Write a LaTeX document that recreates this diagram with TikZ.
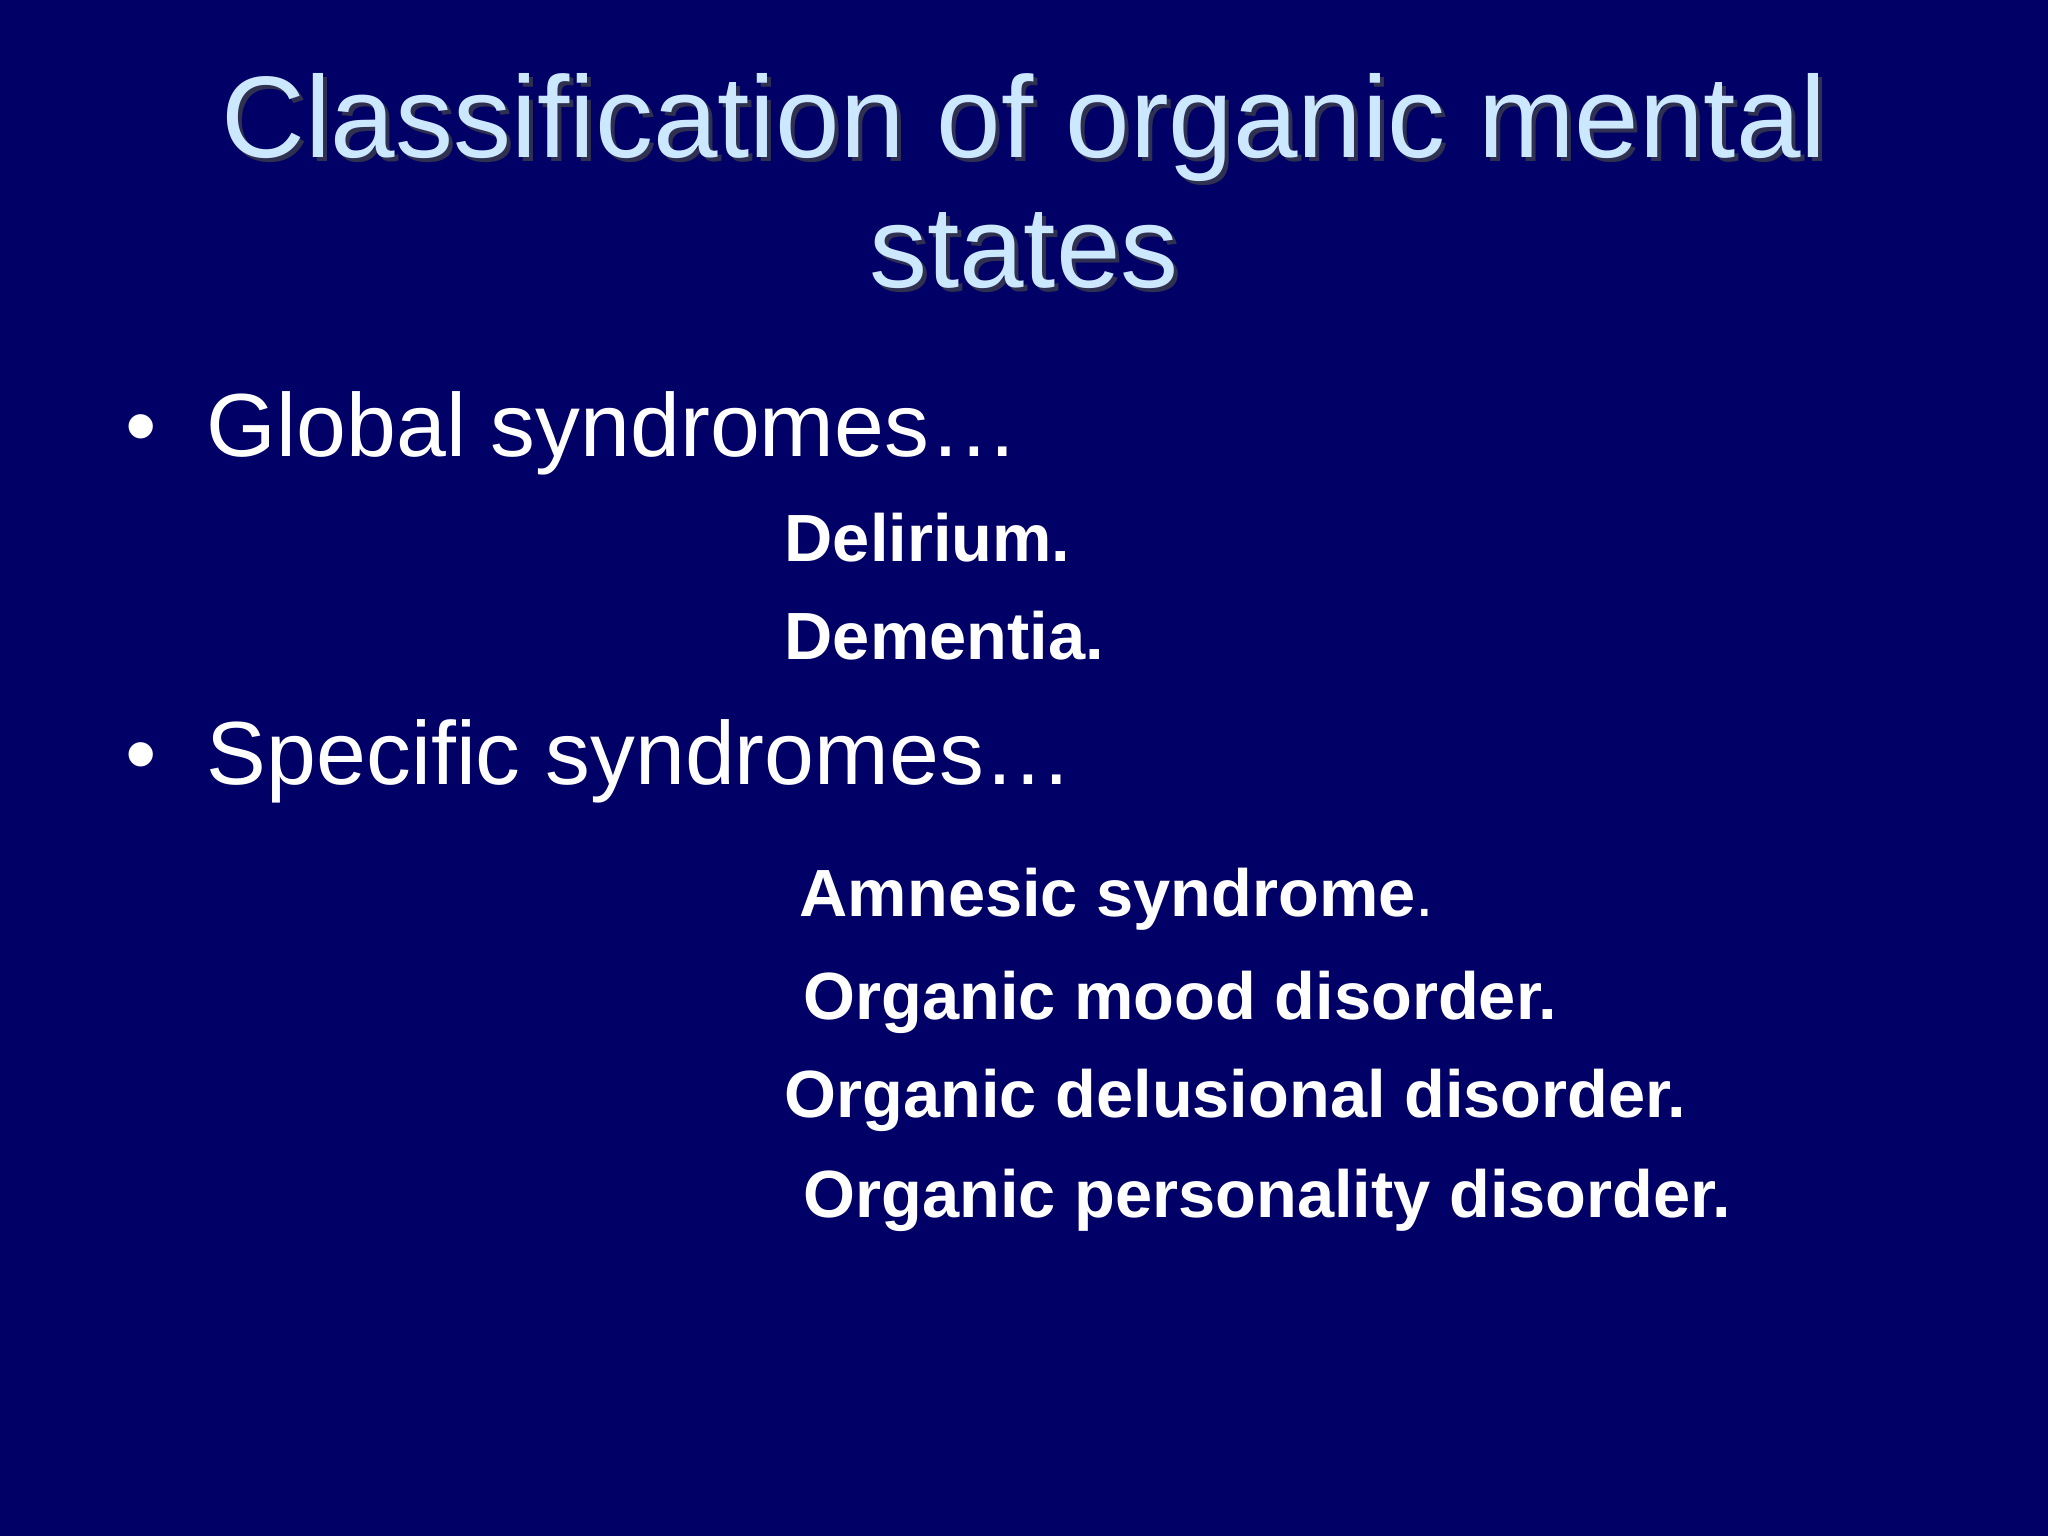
\documentclass[tikz,border=0pt]{standalone}
\usepackage{fontspec}
\setmainfont{Liberation Sans}
\definecolor{bg}{HTML}{000066}
\definecolor{ttl}{HTML}{CCE8FF}
\definecolor{shd}{HTML}{303050}
\begin{document}
\begin{tikzpicture}[x=1cm,y=1cm,
  big/.style={anchor=base west,text=white,font=\fontsize{25.5pt}{30pt}\selectfont,inner sep=0},
  sub/.style={anchor=base west,text=white,font=\fontsize{19pt}{23pt}\selectfont\bfseries,inner sep=0},
  ttlstyle/.style={align=center,font=\fontsize{33pt}{37pt}\selectfont,inner sep=0}]
\fill[bg] (0,0) rectangle (20.48,-15.36);
\useasboundingbox (0,0) rectangle (20.48,-15.36);
\node[ttlstyle,text=shd] (tshadow) at (10.28,-1.85) {Classification of organic mental\\states};
\node[ttlstyle,text=ttl] (title) at (10.24,-1.81) {Classification of organic mental\\states};
\node[big] (b1) at (1.25,-4.57) {•\hspace{0.5cm}Global syndromes…};
\node[sub] (s1) at (7.84,-5.62) {Delirium.};
\node[sub] (s2) at (7.84,-6.60) {Dementia.};
\node[big] (b2) at (1.25,-7.84) {•\hspace{0.5cm}Specific syndromes…};
\node[sub] (s3) at (7.99,-9.17) {Amnesic syndrome\mdseries.};
\node[sub] (s4) at (8.03,-10.19) {Organic mood disorder.};
\node[sub] (s5) at (7.84,-11.17) {Organic delusional disorder.};
\node[sub] (s6) at (8.03,-12.17) {Organic personality disorder.};
\end{tikzpicture}
\end{document}
